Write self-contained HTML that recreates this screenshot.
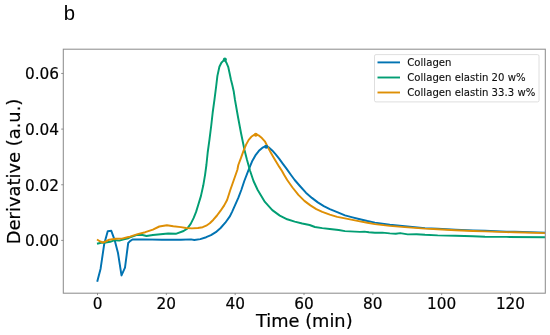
<!DOCTYPE html><html><head><meta charset="utf-8"><title>b</title><style>html,body{margin:0;padding:0;background:#fff}svg{display:block}text{font-family:"DejaVu Sans","Liberation Sans",sans-serif;fill:#000;stroke:#000;stroke-width:0.2px}.lg text{stroke-width:0.12px;fill:#111;stroke:#111}</style></head><body>
<svg width="550" height="335" viewBox="0 0 550 335">
<rect width="550" height="335" fill="#fff"/>
<defs><clipPath id="c"><rect x="63.3" y="49.2" width="482.0" height="244.0"/></clipPath></defs>
<g clip-path="url(#c)">
<polyline fill="none" stroke="#0173B2" stroke-width="1.95" stroke-linejoin="round" stroke-linecap="butt" points="97.2,281.7 100.6,268.7 104.2,244.1 107.8,231.1 111.3,230.8 114.5,239.6 118.0,253.0 121.5,275.4 125.0,267.6 128.2,243.0 130.0,241.1 132.5,239.5 142.7,239.4 161.8,239.8 180.9,239.8 191.0,239.4 194.3,240.0 200.3,239.1 206.2,237.2 211.0,235.2 215.8,232.2 220.6,228.0 225.3,222.7 230.0,216.1 232.3,211.3 238.3,197.9 241.3,190.0 244.3,181.0 248.4,170.3 252.4,160.7 255.8,154.8 258.9,150.8 262.2,147.9 265.1,146.4 268.6,147.2 272.2,150.4 275.7,154.4 279.3,158.9 282.9,163.8 286.5,168.7 291.0,175.0 294.7,180.0 299.9,186.0 305.9,192.7 311.9,197.9 317.8,202.4 323.8,206.1 329.8,209.1 337.2,212.1 345.0,215.4 352.5,217.4 359.9,219.2 367.4,221.0 374.9,222.6 389.8,224.7 404.7,226.3 425.0,228.1 437.7,228.6 455.5,229.7 473.0,230.4 485.0,230.8 506.5,231.6 514.6,231.8 545.5,232.6"/>
<polyline fill="none" stroke="#029E73" stroke-width="1.95" stroke-linejoin="round" stroke-linecap="butt" points="97.0,243.8 101.0,242.7 105.6,242.5 110.2,241.8 114.7,240.2 119.3,240.6 123.8,239.3 128.4,238.2 130.0,237.3 136.4,235.1 141.5,234.7 146.5,236.0 152.9,235.0 160.5,234.3 168.2,233.5 175.8,233.8 183.6,231.0 187.2,228.6 190.7,223.9 193.7,217.9 196.1,211.9 198.2,205.0 200.9,196.1 203.3,185.3 205.1,174.6 206.4,165.0 207.7,152.5 209.5,139.3 211.3,125.0 212.7,112.5 214.5,99.3 216.2,86.0 217.4,75.9 219.4,66.8 221.4,62.7 223.2,60.9 224.7,59.5 226.4,62.7 228.2,66.8 229.6,73.2 230.9,79.5 232.3,85.0 233.8,91.8 235.0,100.0 238.0,117.0 241.0,133.0 244.5,150.0 246.9,159.5 249.9,170.3 253.5,181.0 257.7,190.0 264.9,201.9 272.3,210.1 279.8,215.6 287.2,219.3 294.7,221.6 302.2,223.5 309.6,225.0 314.9,227.0 322.3,228.1 329.8,229.0 338.7,230.0 345.0,231.1 359.9,231.9 364.4,231.6 368.9,232.3 374.9,232.8 382.3,232.6 389.8,233.4 395.8,233.7 400.2,233.1 407.7,234.4 416.6,234.2 425.0,234.8 437.7,235.4 455.5,235.8 473.0,236.3 485.0,236.7 506.5,236.9 545.5,237.3"/>
<circle cx="224.85" cy="59.6" r="2.0" fill="#029E73"/>
<polyline fill="none" stroke="#DE8F05" stroke-width="1.95" stroke-linejoin="round" stroke-linecap="butt" points="97.0,239.5 100.2,241.5 102.9,242.5 105.6,241.5 109.3,239.7 115.6,238.8 122.0,238.6 128.4,237.0 130.0,236.6 137.6,234.1 145.3,232.2 152.9,229.6 159.3,226.5 166.9,225.2 173.3,226.2 180.9,227.1 186.0,228.0 191.9,228.4 197.9,228.0 202.7,227.2 206.2,225.7 209.8,223.3 213.4,219.7 217.0,215.5 220.6,210.7 224.2,205.4 227.1,200.0 230.3,190.0 233.9,179.8 237.4,169.7 238.3,165.0 240.9,158.2 243.5,150.9 246.1,144.6 248.7,139.9 251.3,136.8 253.9,135.0 255.8,134.5 258.8,135.4 261.9,138.1 265.1,141.7 268.6,148.6 271.3,153.5 273.9,158.0 276.6,162.5 279.3,166.9 282.0,171.0 284.2,175.0 287.2,180.0 292.5,187.5 298.4,194.9 304.4,200.9 310.4,205.4 316.3,209.1 322.3,211.8 329.8,214.6 337.2,216.9 345.0,218.4 352.5,219.9 359.9,221.4 367.4,222.8 374.9,224.1 389.8,225.9 404.7,227.1 425.0,228.6 437.7,229.2 455.5,230.2 473.0,231.0 485.0,231.4 506.5,232.1 514.6,232.3 545.5,233.1"/>
<circle cx="255.8" cy="134.7" r="2.0" fill="#DE8F05"/>
<circle cx="266.2" cy="146.8" r="2.0" fill="#0173B2"/>
</g>
<rect x="63.3" y="49.2" width="482.0" height="244.0" fill="none" stroke="#8e8e8e" stroke-width="1.05"/>
<line x1="97.50" y1="293.2" x2="97.50" y2="295.1" stroke="#777" stroke-width="0.8"/>
<text x="97.50" y="308.8" font-size="15.3" text-anchor="middle">0</text>
<line x1="166.33" y1="293.2" x2="166.33" y2="295.1" stroke="#777" stroke-width="0.8"/>
<text x="166.33" y="308.8" font-size="15.3" text-anchor="middle">20</text>
<line x1="235.17" y1="293.2" x2="235.17" y2="295.1" stroke="#777" stroke-width="0.8"/>
<text x="235.17" y="308.8" font-size="15.3" text-anchor="middle">40</text>
<line x1="304.00" y1="293.2" x2="304.00" y2="295.1" stroke="#777" stroke-width="0.8"/>
<text x="304.00" y="308.8" font-size="15.3" text-anchor="middle">60</text>
<line x1="372.83" y1="293.2" x2="372.83" y2="295.1" stroke="#777" stroke-width="0.8"/>
<text x="372.83" y="308.8" font-size="15.3" text-anchor="middle">80</text>
<line x1="441.67" y1="293.2" x2="441.67" y2="295.1" stroke="#777" stroke-width="0.8"/>
<text x="441.67" y="308.8" font-size="15.3" text-anchor="middle">100</text>
<line x1="510.50" y1="293.2" x2="510.50" y2="295.1" stroke="#777" stroke-width="0.8"/>
<text x="510.50" y="308.8" font-size="15.3" text-anchor="middle">120</text>
<line x1="61.2" y1="73.46" x2="63.3" y2="73.46" stroke="#777" stroke-width="0.8"/>
<text x="59" y="79.46" font-size="15.3" text-anchor="end">0.06</text>
<line x1="61.2" y1="129.10" x2="63.3" y2="129.10" stroke="#777" stroke-width="0.8"/>
<text x="59" y="135.10" font-size="15.3" text-anchor="end">0.04</text>
<line x1="61.2" y1="184.75" x2="63.3" y2="184.75" stroke="#777" stroke-width="0.8"/>
<text x="59" y="190.75" font-size="15.3" text-anchor="end">0.02</text>
<line x1="61.2" y1="240.40" x2="63.3" y2="240.40" stroke="#777" stroke-width="0.8"/>
<text x="59" y="246.40" font-size="15.3" text-anchor="end">0.00</text>
<text x="304.3" y="327.3" font-size="17.80" text-anchor="middle">Time (min)</text>
<text transform="translate(19.8,171.45) rotate(-90)" font-size="17.90" text-anchor="middle">Derivative (a.u.)</text>
<text x="63.85" y="19.85" font-size="20.3" style="font-family:'Liberation Sans',sans-serif;stroke:none">b</text>
<g class="lg">
<rect x="374.5" y="54.6" width="164.5" height="47.3" rx="1.5" fill="#fff" fill-opacity="0.8" stroke="#d6d6d6" stroke-width="0.8"/>
<line x1="377.5" y1="62.4" x2="400" y2="62.4" stroke="#0173B2" stroke-width="1.9"/>
<text x="407.3" y="66.1" font-size="10.15">Collagen</text>
<line x1="377.5" y1="77.5" x2="400" y2="77.5" stroke="#029E73" stroke-width="1.9"/>
<text x="407.3" y="81.2" font-size="10.15">Collagen elastin 20 w%</text>
<line x1="377.5" y1="92.5" x2="400" y2="92.5" stroke="#DE8F05" stroke-width="1.9"/>
<text x="407.3" y="96.2" font-size="10.15">Collagen elastin 33.3 w%</text>
</g>
</svg></body></html>
